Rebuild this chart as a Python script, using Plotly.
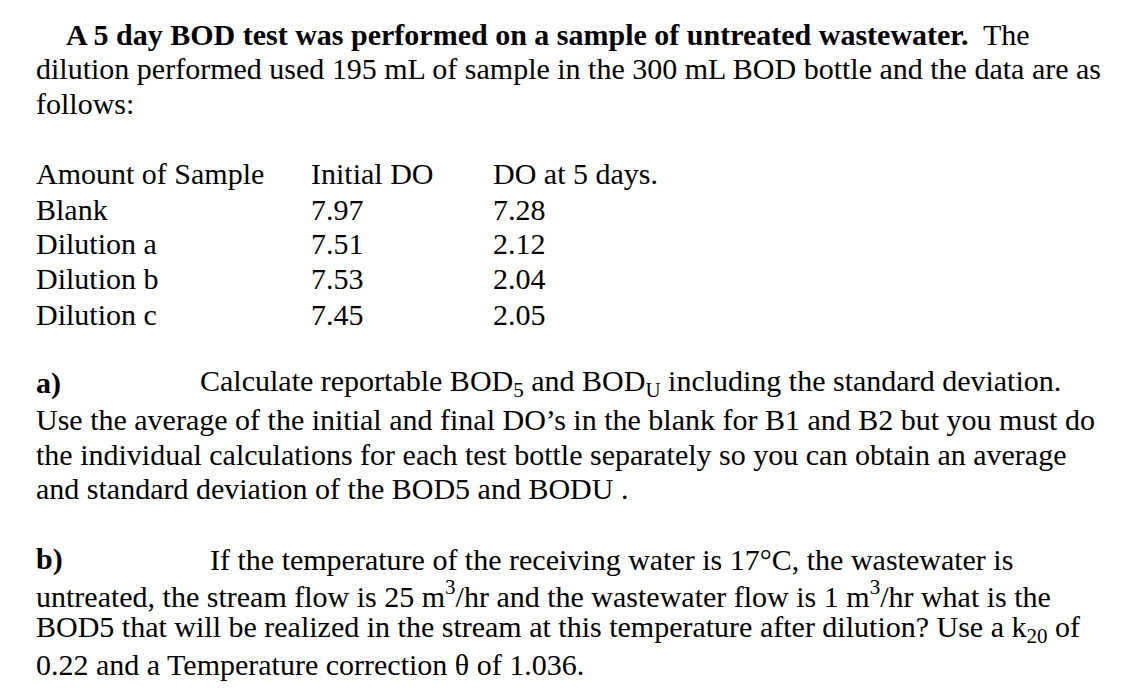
import plotly.graph_objects as go

W, H = 1140, 696
samples = ["Blank", "Dilution a", "Dilution b", "Dilution c"]
initial_do = ["7.97", "7.51", "7.53", "7.45"]
do_5day = ["7.28", "2.12", "2.04", "2.05"]
headers = ["Amount of Sample", "Initial DO", "DO at 5 days."]

FONT = dict(family="Liberation Serif, Times New Roman, serif", size=30, color="black")

lines = [
    (66, 35, "<b>A 5 day BOD test was performed on a sample of untreated wastewater.</b>  The"),
    (36, 70, "dilution performed used 195 mL of sample in the 300 mL BOD bottle and the data are as"),
    (36, 104, "follows:"),
    (36, 384, "<b>a)</b>"),
    (200, 384, "Calculate reportable BOD<sub>5</sub> and BOD<sub>U</sub> including the standard deviation."),
    (36, 420, "Use the average of the initial and final DO’s in the blank for B1 and B2 but you must do"),
    (36, 455, "the individual calculations for each test bottle separately so you can obtain an average"),
    (36, 490, "and standard deviation of the BOD5 and BODU ."),
    (36, 560, "<b>b)</b>"),
    (210, 560, "If the temperature of the receiving water is 17°C, the wastewater is"),
    (36, 595, "untreated, the stream flow is 25 m<sup>3</sup>/hr and the wastewater flow is 1 m<sup>3</sup>/hr what is the"),
    (36, 630, "BOD5 that will be realized in the stream at this temperature after dilution? Use a k<sub>20</sub> of"),
    (36, 665, "0.22 and a Temperature correction θ of 1.036."),
]

col_x = [36, 311, 493]
header_y = 174
row_y = [210, 244, 279, 315]

ann = []
def add(x, y, t):
    ann.append(dict(x=x / W, y=1 - y / H, xref="paper", yref="paper", text=t,
                    showarrow=False, xanchor="left", yanchor="middle", font=FONT,
                    xshift=-10, yshift=9))

for x, y, t in lines:
    add(x, y, t)
for cx, h in zip(col_x, headers):
    add(cx, header_y, h)
for i, ry in enumerate(row_y):
    add(col_x[0], ry, samples[i])
    add(col_x[1], ry, initial_do[i])
    add(col_x[2], ry, do_5day[i])

fig = go.Figure()
fig.update_layout(width=W, height=H, margin=dict(l=0, r=0, t=0, b=0),
                  paper_bgcolor="white", plot_bgcolor="white",
                  xaxis=dict(visible=False), yaxis=dict(visible=False),
                  annotations=ann)
fig.write_html("out.html")
